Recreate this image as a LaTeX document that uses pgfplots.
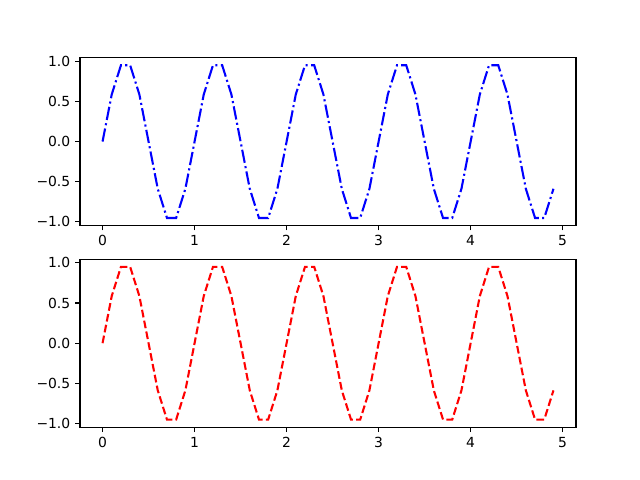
\documentclass[border=0pt]{standalone}
\usepackage{pgfplots}
\pgfplotsset{compat=1.18}
\usepackage{fontspec}
\setmainfont{DejaVu Sans}

\pgfplotstableread{
t y
0.0 0.0000
0.1 0.5878
0.2 0.9511
0.3 0.9511
0.4 0.5878
0.5 0.0000
0.6 -0.5878
0.7 -0.9511
0.8 -0.9511
0.9 -0.5878
1.0 0.0000
1.1 0.5878
1.2 0.9511
1.3 0.9511
1.4 0.5878
1.5 0.0000
1.6 -0.5878
1.7 -0.9511
1.8 -0.9511
1.9 -0.5878
2.0 0.0000
2.1 0.5878
2.2 0.9511
2.3 0.9511
2.4 0.5878
2.5 0.0000
2.6 -0.5878
2.7 -0.9511
2.8 -0.9511
2.9 -0.5878
3.0 0.0000
3.1 0.5878
3.2 0.9511
3.3 0.9511
3.4 0.5878
3.5 0.0000
3.6 -0.5878
3.7 -0.9511
3.8 -0.9511
3.9 -0.5878
4.0 0.0000
4.1 0.5878
4.2 0.9511
4.3 0.9511
4.4 0.5878
4.5 0.0000
4.6 -0.5878
4.7 -0.9511
4.8 -0.9511
4.9 -0.5878
}\sinedata

\pgfplotsset{
  mplaxis/.style={
    scale only axis, width=357.12pt, height=120.96pt,
    anchor=south west,
    xmin=-0.245, xmax=5.145, ymin=-1.0462, ymax=1.0462,
    xtick={0,1,2,3,4,5},
    ytick={-1,-0.5,0,0.5,1},
    yticklabels={−1.0,−0.5,0.0,0.5,1.0},
    tick align=outside, tick pos=left,
    major tick length=3.5pt,
    every tick/.style={black, line width=0.8pt},
    axis line style={line width=0.8pt},
    tick label style={font=\fontsize{10}{12}\selectfont},
    /pgf/number format/assume math mode=true,
  },
}

\begin{document}
\begin{tikzpicture}
\path[use as bounding box] (0,0) rectangle (460.8pt,345.6pt);
\begin{axis}[mplaxis, at={(57.6pt,183.168pt)}]
\addplot[blue, line width=1.5pt, dash pattern=on 9.6pt off 2.4pt on 1.5pt off 2.4pt] table[x=t,y=y] {\sinedata};
\end{axis}
\begin{axis}[mplaxis, at={(57.6pt,38.016pt)}]
\addplot[red, line width=1.5pt, dash pattern=on 5.55pt off 2.4pt] table[x=t,y=y] {\sinedata};
\end{axis}
\end{tikzpicture}
\end{document}
